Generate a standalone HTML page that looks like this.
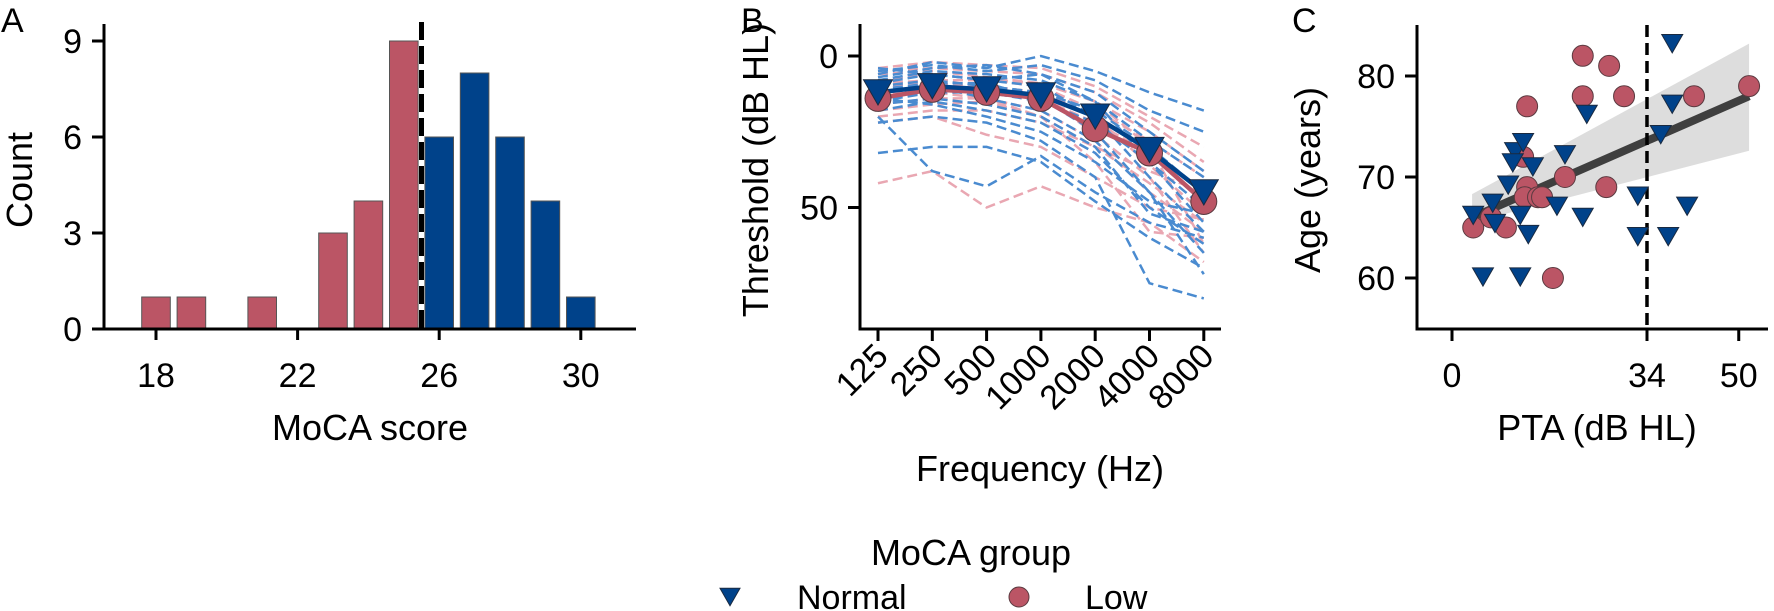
<!DOCTYPE html>
<html><head><meta charset="utf-8"><style>
html,body{margin:0;padding:0;background:#fff;}
svg{display:block;font-family:"Liberation Sans",Arial,sans-serif;}
</style></head><body>
<svg id="fig" width="1774" height="611" viewBox="0 0 1774 611" xmlns="http://www.w3.org/2000/svg">
<g id="pa"></g>
<g id="pb"></g>
<g id="pc"></g>
<g id="leg"></g>
</svg>
<script>
// ---- Panel A data ----
const mocaScores = [18,19,21,23,24,25,26,27,28,29,30];
const mocaCounts = [1,1,1,3,4,9,6,8,6,4,1];
const mocaGroup  = ['low','low','low','low','low','low','normal','normal','normal','normal','normal'];
const mocaXTicks = [18,22,26,30];
const mocaYTicks = [0,3,6,9];
const mocaCutoff = 25.5;

// ---- Panel B data ----
const freqLabels = ['125','250','500','1000','2000','4000','8000'];
const meanNormal = [12,10,11,13,20,31,45];
const meanLow    = [14,11,12,14,24,32,48];
const threshTicks = [0,50];
const normalLines = [
 [5,3,5,3,8,18,25],[8,5,6,8,15,28,40],[10,8,10,12,18,30,45],[15,12,12,15,22,35,55],
 [20,38,43,33,45,55,60],[32,30,30,35,48,60,70],[6,2,4,0,5,12,18],[12,10,14,18,28,45,65],
 [18,15,18,22,32,50,62],[9,6,8,10,20,40,58],[14,16,20,25,35,48,52],[4,6,8,6,12,25,38],
 [22,20,22,28,40,75,80],[11,9,9,14,25,45,72],[7,4,3,6,15,35,50],[16,14,16,20,30,52,58]
];
const lowLines = [
 [42,38,50,43,50,55,68],[4,2,3,4,10,20,30],[8,6,8,10,18,28,40],[12,10,12,14,22,32,48],
 [18,16,15,20,30,42,55],[6,5,7,9,15,25,38],[10,9,10,12,20,36,52],[16,14,14,18,28,45,58],
 [14,12,14,20,35,58,60],[20,18,18,22,30,38,45],[9,8,8,9,15,30,62],[5,4,5,6,12,22,35],
 [22,20,26,30,40,50,54],[13,11,10,12,26,40,65]
];

// ---- Panel C data ----
const ptaNormal = [3.7,7.1,7.5,5.4,11.9,11,12.4,10.6,14.1,9.8,11.9,13.3,19.7,18.3,22.8,23.5,38.4,38.4,36.4,32.4,41,32.4,37.7];
const ageNormal = [66.2,67.4,65.4,60.1,60.1,72.5,73.4,71.4,71,69.2,66.2,64.3,72.2,67.1,66,76.2,83.2,77.2,74.2,68.1,67.1,64.1,64.1];
const ptaLow = [3.7,6.8,9.4,13.1,12.4,13.1,12.7,15,19.7,17.6,22.8,27.4,22.8,30,42.2,51.8,26.9,15.7];
const ageLow = [65,66,65,77,72,69,68,68,70,60,82,81,78,78,78,79,69,68];
const ptaTicks = [0,34,50];
const ageTicks = [60,70,80];
const fitX = [3.5,51.8];
const fitY = [66,78];
const bandLo = [65.5,72.6];
const bandHi = [68.3,83.2];
const ptaCutoff = 34;

const NS='http://www.w3.org/2000/svg';
const RED='#bb5565', BLUE='#00428a', LBLUE='#4a8bd0', PINK='#e9a7b2';
const TF=34, LF=36;
function mk(parent,tag,attrs,text){const e=document.createElementNS(NS,tag);for(const k in attrs)e.setAttribute(k,attrs[k]);if(text!==undefined)e.textContent=text;parent.appendChild(e);return e;}
function tri(parent,cx,cy,w,fill){const h=w*0.87;return mk(parent,'polygon',{points:`${cx-w/2},${cy-h/2} ${cx+w/2},${cy-h/2} ${cx},${cy+h/2}`,fill:fill,stroke:'#1a2a40','stroke-width':1});}

// ===== Panel A =====
(function(){
 const g=document.getElementById('pa');
 const x=v=>156+(v-18)*35.4, y=c=>329-c*32;
 mocaScores.forEach((s,i)=>{
  const r=mk(g,'rect',{x:x(s)-14.3,y:y(mocaCounts[i]),width:28.6,height:mocaCounts[i]*32,fill:mocaGroup[i]==='low'?RED:BLUE,stroke:'#555','stroke-width':1});
  
  
 });
 const cl=mk(g,'line',{x1:x(mocaCutoff),x2:x(mocaCutoff),y1:22,y2:329,stroke:'#000','stroke-width':5,'stroke-dasharray':'18,6'});
 
 mk(g,'line',{x1:104,x2:104,y1:24,y2:330,stroke:'#000','stroke-width':3,});
 mk(g,'line',{x1:102.5,x2:636,y1:329,y2:329,stroke:'#000','stroke-width':3,});
 mocaXTicks.forEach(t=>{mk(g,'line',{x1:x(t),x2:x(t),y1:329,y2:340,stroke:'#000','stroke-width':3});
  const e=mk(g,'text',{x:x(t),y:387,'font-size':TF,'text-anchor':'middle'},t);});
 mocaYTicks.forEach(t=>{mk(g,'line',{x1:92,x2:104,y1:y(t),y2:y(t),stroke:'#000','stroke-width':3});
  const e=mk(g,'text',{x:82,y:y(t)+12,'font-size':TF,'text-anchor':'end'},t);});
 mk(g,'text',{x:370,y:440,'font-size':LF,'text-anchor':'middle',},'MoCA score');
 mk(g,'text',{x:0,y:0,'font-size':LF,'text-anchor':'middle',transform:'translate(32,180) rotate(-90)',},'Count');
 mk(g,'text',{x:1,y:32,'font-size':34,},'A');
})();

// ===== Panel B =====
(function(){
 const g=document.getElementById('pb');
 const x=i=>878+i*54.3, y=d=>56+d*3.03;
 const pts=a=>a.map((v,i)=>x(i)+','+y(v)).join(' ');
 lowLines.forEach(l=>{const e=mk(g,'polyline',{points:pts(l),fill:'none',stroke:PINK,'stroke-width':2.5,'stroke-dasharray':'10,5'});});
 normalLines.forEach(l=>{const e=mk(g,'polyline',{points:pts(l),fill:'none',stroke:LBLUE,'stroke-width':2.5,'stroke-dasharray':'10,5'});});
 const ml=mk(g,'polyline',{points:pts(meanLow),fill:'none',stroke:RED,'stroke-width':4.5});
 const mn=mk(g,'polyline',{points:pts(meanNormal),fill:'none',stroke:BLUE,'stroke-width':4.5});
 meanLow.forEach((v,i)=>{const c=mk(g,'circle',{cx:x(i),cy:y(v),r:13,fill:RED,stroke:'#5a3a40','stroke-width':1});});
 meanNormal.forEach((v,i)=>{const t=tri(g,x(i),y(v),29,BLUE);});
 mk(g,'line',{x1:860,x2:860,y1:24,y2:330,stroke:'#000','stroke-width':3,});
 mk(g,'line',{x1:858.5,x2:1221,y1:329,y2:329,stroke:'#000','stroke-width':3,});
 freqLabels.forEach((f,i)=>{mk(g,'line',{x1:x(i),x2:x(i),y1:329,y2:341,stroke:'#000','stroke-width':3});
  const e=mk(g,'text',{x:0,y:0,'font-size':TF,'text-anchor':'end',transform:`translate(${x(i)+12},${358}) rotate(-45)`},f);});
 threshTicks.forEach(t=>{mk(g,'line',{x1:848,x2:860,y1:y(t),y2:y(t),stroke:'#000','stroke-width':3});
  const e=mk(g,'text',{x:838,y:y(t)+12,'font-size':TF,'text-anchor':'end'},t);});
 mk(g,'text',{x:1040,y:481,'font-size':LF,'text-anchor':'middle',},'Frequency (Hz)');
 mk(g,'text',{x:0,y:0,'font-size':LF,'text-anchor':'middle',transform:'translate(768,170) rotate(-90)',},'Threshold (dB HL)');
 mk(g,'text',{x:741,y:32,'font-size':34,},'B');
})();

// ===== Panel C =====
(function(){
 const g=document.getElementById('pc');
 const x=v=>1452+v*5.735, y=a=>76+(80-a)*10.1;
 const band=mk(g,'polygon',{points:`${x(fitX[0])},${y(bandLo[0])} ${x(fitX[1])},${y(bandLo[1])} ${x(fitX[1])},${y(bandHi[1])} ${x(fitX[0])},${y(bandHi[0])}`,fill:'#dddddd'});
 
 const fl=mk(g,'line',{x1:x(fitX[0]),y1:y(fitY[0]),x2:x(fitX[1]),y2:y(fitY[1]),stroke:'#3f3f3f','stroke-width':8});
 
 const cl=mk(g,'line',{x1:x(ptaCutoff),x2:x(ptaCutoff),y1:25,y2:329,stroke:'#000','stroke-width':3.5,'stroke-dasharray':'12,6'});
 
 ptaLow.forEach((v,i)=>{const c=mk(g,'circle',{cx:x(v),cy:y(ageLow[i]),r:10.5,fill:RED,stroke:'#5a3a40','stroke-width':1});});
 ptaNormal.forEach((v,i)=>{const t=tri(g,x(v),y(ageNormal[i]),21,BLUE);});
 mk(g,'line',{x1:1417,x2:1417,y1:25,y2:330,stroke:'#000','stroke-width':3,});
 mk(g,'line',{x1:1415.5,x2:1768,y1:329,y2:329,stroke:'#000','stroke-width':3,});
 ptaTicks.forEach(t=>{mk(g,'line',{x1:x(t),x2:x(t),y1:329,y2:341,stroke:'#000','stroke-width':3});
  const e=mk(g,'text',{x:x(t),y:387,'font-size':TF,'text-anchor':'middle'},t);});
 ageTicks.forEach(t=>{mk(g,'line',{x1:1405,x2:1417,y1:y(t),y2:y(t),stroke:'#000','stroke-width':3});
  const e=mk(g,'text',{x:1395,y:y(t)+12,'font-size':TF,'text-anchor':'end'},t);});
 mk(g,'text',{x:1597,y:440,'font-size':LF,'text-anchor':'middle',},'PTA (dB HL)');
 mk(g,'text',{x:0,y:0,'font-size':LF,'text-anchor':'middle',transform:'translate(1320,180) rotate(-90)',},'Age (years)');
 mk(g,'text',{x:1292,y:32,'font-size':34,},'C');
})();

// ===== Legend =====
(function(){
 const g=document.getElementById('leg');
 mk(g,'text',{x:971,y:565,'font-size':LF,'text-anchor':'middle',},'MoCA group');
 const t=tri(g,730,597,20,BLUE);
 mk(g,'text',{x:797,y:609,'font-size':TF,},'Normal');
 const c=mk(g,'circle',{cx:1019,cy:597,r:10,fill:RED,stroke:'#5a3a40','stroke-width':1});
 mk(g,'text',{x:1085,y:609,'font-size':TF,},'Low');
})();
</script>
</body></html>
